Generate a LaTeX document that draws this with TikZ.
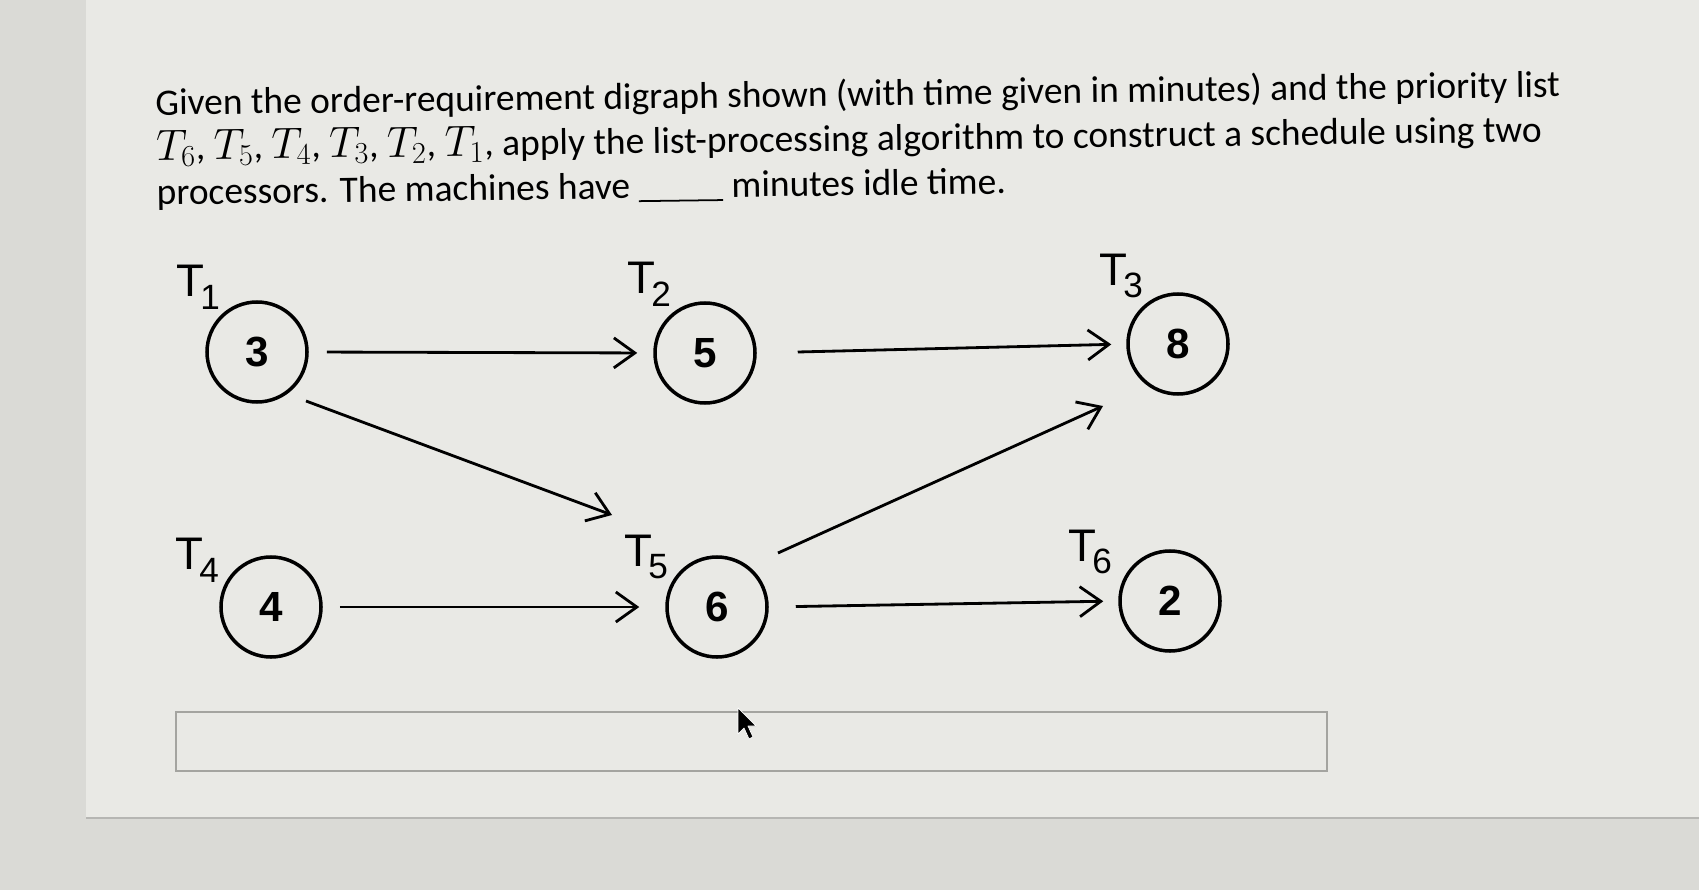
\documentclass[tikz,border=0pt]{standalone}
\usepackage{amsmath}
\usepackage{fontspec}
\setmainfont{Carlito}
\newfontfamily\arialfont{Liberation Sans}
\usepackage{tikz}
\usetikzlibrary{shapes, arrows.meta}

\definecolor{screen}{HTML}{DADAD6}
\definecolor{panel}{HTML}{E9E9E5}
\definecolor{boxline}{HTML}{A4A4A0}

\newcommand{\tlabel}[1]{T\kern-0.08em\raisebox{-0.28em}{\fontsize{20}{20}\selectfont #1}}
\newcommand{\tmath}[1]{{\fontsize{26.5}{26.5}\selectfont$T_{#1}$}}

\begin{document}
\begin{tikzpicture}[main/.style = {draw, circle, line width=2pt, minimum size=2cm, inner sep=0pt,
                        font=\arialfont\bfseries\fontsize{24}{24}\selectfont},
                    tname/.style = {font=\arialfont\fontsize{26}{26}\selectfont, inner sep=0pt},
                    arr/.style = {-{Straight Barb[length=0.42cm, width=0.6cm]}, line width=1.6pt}]
                \useasboundingbox (0, 0) rectangle (33.98, 17.8);
                \fill[screen] (0, 0) rectangle (33.98, 17.8);
                \fill[panel] (1.72, 1.44) rectangle (33.98, 17.8);
                \draw[boxline!80, line width=0.8pt] (1.72, 1.44) -- (33.98, 1.44);

                % question text
                \node[anchor=north west, align=left, inner sep=0pt, rotate=0.75,
                      font=\fontsize{21.3}{25.5}\selectfont] at (3.1, 16.05) (Q)
                      {Given the order-requirement digraph shown (with time given in minutes) and the priority list\\
                       \tmath{6}, \tmath{5}, \tmath{4}, \tmath{3}, \tmath{2}, \tmath{1}, apply the list-processing algorithm to construct a schedule using two\\
                       processors. The machines have \rule[-2pt]{48pt}{1pt} minutes idle time.};

                \node[main] at (5.14, 10.76) (T1) {3};
                \node[main] at (14.10, 10.74) (T2) {5};
                \node[main] at (23.56, 10.92) (T3) {8};
                \node[main] at (5.42, 5.66) (T4) {4};
                \node[main] at (14.34, 5.66) (T5) {6};
                \node[main] at (23.40, 5.78) (T6) {2};

                \node[tname] at (3.96, 12.06) (L1) {\tlabel{1}};
                \node[tname] at (12.98, 12.12) (L2) {\tlabel{2}};
                \node[tname] at (22.42, 12.28) (L3) {\tlabel{3}};
                \node[tname] at (3.94, 6.6) (L4) {\tlabel{4}};
                \node[tname] at (12.92, 6.66) (L5) {\tlabel{5}};
                \node[tname] at (21.8, 6.76) (L6) {\tlabel{6}};

                \draw [arr, shorten <=0.36cm, shorten >=0.32cm] (T1.east) -- (T2.west);
                \draw [arr, shorten <=0.82cm, shorten >=0.30cm] (T2.east) -- (T3.west);
                \draw [arr, shorten <=0.34cm, shorten >=0.52cm] (T4.east) -- (T5.west);
                \draw [arr, shorten <=0.54cm, shorten >=0.30cm] (T5.east) -- (T6.west);
                \draw [arr] ([shift={(0.98, -0.98)}]T1.center) -- ([shift={(-2.1, 1.84)}]T5.center);
                \draw [arr] ([shift={(1.22, 1.08)}]T5.center) -- ([shift={(-1.5, -1.24)}]T3.center);

                % answer box
                \draw[boxline, line width=1.2pt] (3.52, 3.56) rectangle (26.54, 2.38);

                % mouse pointer
                \filldraw[black, draw=white, line width=0.4pt, line join=round]
                    (14.76, 3.64) -- ++(0, -0.52) -- ++(0.12, 0.12) -- ++(0.1, -0.22)
                    -- ++(0.08, 0.04) -- ++(-0.1, 0.22) -- ++(0.16, 0) -- cycle;
            \end{tikzpicture}
\end{document}
